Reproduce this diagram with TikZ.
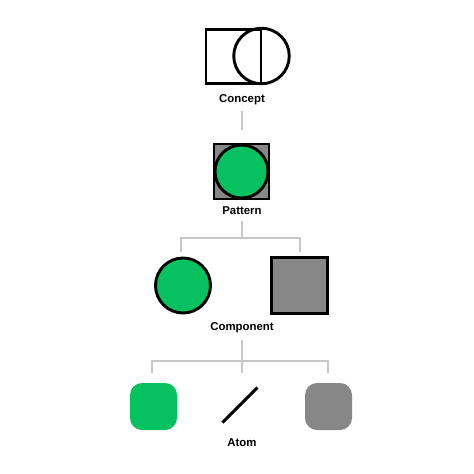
\documentclass[tikz,border=0pt]{standalone}
\usepackage{fontspec}
\setmainfont{Liberation Sans}
\definecolor{atomgreen}{HTML}{05C160}
\definecolor{atomgray}{HTML}{878787}
\definecolor{linkgray}{HTML}{C8C8C8}
\tikzset{
  outlined/.style={draw=black, line width=2.9pt},
  lbl/.style={font=\fontsize{11.4}{13}\selectfont\bfseries, inner sep=0pt},
  conn/.style={draw=linkgray, line width=1.4pt},
  atombox/.style={rectangle, rounded corners=12pt, minimum size=47pt, inner sep=0pt},
}
\begin{document}
\begin{tikzpicture}[x=1pt, y=-1pt]
      \useasboundingbox[fill=white] (0,0) rectangle (474,474);

      % concept
      \node[outlined, rectangle, minimum width=55pt, minimum height=54pt, inner sep=0pt] (conceptsq) at (233.5,56.5) {};
      \node[outlined, circle, minimum size=55.5pt, inner sep=0pt] (conceptci) at (261.5,56) {};
      \node[lbl] (conceptlbl) at (242,100) {Concept};

      % pattern
      \node[outlined, rectangle, fill=atomgray, minimum size=55pt, inner sep=0pt] (patsq) at (241.5,171.5) {};
      \node[outlined, circle, fill=atomgreen, minimum size=53pt, inner sep=0pt] (patci) at (241.5,171.5) {};
      \node[lbl] (patlbl) at (242,211) {Pattern};

      % components
      \node[outlined, circle, fill=atomgreen, minimum size=55pt, inner sep=0pt] (compci) at (183,285.5) {};
      \node[outlined, rectangle, fill=atomgray, line width=3.2pt, minimum size=55.5pt, inner sep=0pt] (compsq) at (299.5,285.5) {};
      \node[lbl] (complbl) at (242,328) {Component};

      % atoms
      \node[atombox, fill=atomgreen] (atomg) at (153.5,406.5) {};
      \node[atombox, fill=atomgray] (atomh) at (328.5,406.5) {};
      \draw[line width=3pt] (222.5,422.5) -- (257.5,387.5);
      \node[lbl] (atomlbl) at (242,443) {Atom};

      % connectors
      \coordinate (k1) at (242,111);
      \coordinate (k2) at (242,130);
      \draw[conn] (k1) -- (k2);

      \coordinate (p1) at (242,221);
      \coordinate (p2) at (242,238);
      \coordinate (pl) at (181,238);
      \coordinate (pr) at (300,238);
      \coordinate (pld) at (181,252);
      \coordinate (prd) at (300,252);
      \draw[conn] (p1) -- (p2);
      \draw[conn] (pld) -- (pl) -- (pr) -- (prd);

      \coordinate (c1) at (242,340);
      \coordinate (c2) at (242,361);
      \coordinate (cl) at (152,361);
      \coordinate (cr) at (328,361);
      \coordinate (cld) at (152,373);
      \coordinate (cmd) at (242,373);
      \coordinate (crd) at (328,373);
      \draw[conn] (c1) -- (cmd);
      \draw[conn] (cld) -- (cl) -- (cr) -- (crd);
\end{tikzpicture}
\end{document}
